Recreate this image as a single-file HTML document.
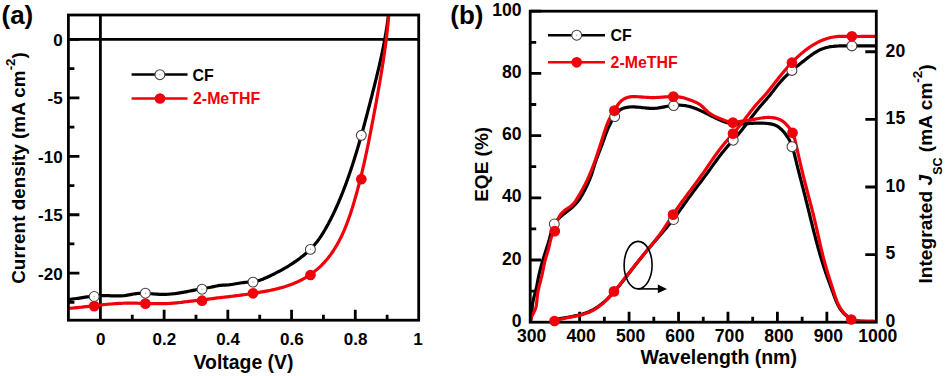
<!DOCTYPE html>
<html><head><meta charset="utf-8"><style>
html,body{margin:0;padding:0;background:#fff;}
body{width:946px;height:376px;overflow:hidden;font-family:"Liberation Sans",sans-serif;}
svg{display:block;}
</style></head><body>
<svg width="946" height="376" viewBox="0 0 946 376">
<rect width="946" height="376" fill="#fff"/>
<defs><clipPath id="ca"><rect x="68.4" y="15.0" width="350.3" height="305.2"/></clipPath><clipPath id="cb"><rect x="530.2" y="11.2" width="346.1" height="311.0"/></clipPath></defs>
<g font-family="Liberation Sans, sans-serif" font-weight="bold">
<g stroke="#000" stroke-width="2.80" fill="none">
<path d="M68.4,39.40H79.4 M68.4,97.85H79.4 M68.4,156.30H79.4 M68.4,214.75H79.4 M68.4,273.20H79.4 M68.4,68.62H74.4 M68.4,127.07H74.4 M68.4,185.53H74.4 M68.4,243.97H74.4 M68.4,302.42H74.4 M164.12,320.2V309.7 M227.84,320.2V309.7 M291.56,320.2V309.7 M355.28,320.2V309.7 M132.26,320.2V314.7 M195.98,320.2V314.7 M259.70,320.2V314.7 M323.42,320.2V314.7 M387.14,320.2V314.7"/>
<path d="M68.4,39.40H418.7 M100.40,15.0V320.2"/>
</g>
<path clip-path="url(#ca)" d="M69.00,299.48 L70.49,299.32 L71.98,299.14 L73.47,298.95 L74.96,298.75 L76.46,298.53 L77.95,298.31 L79.44,298.08 L80.93,297.85 L82.42,297.62 L83.91,297.40 L85.41,297.17 L86.90,296.95 L88.39,296.74 L89.89,296.54 L91.38,296.35 L92.88,296.18 L94.37,296.03 L95.87,295.89 L97.37,295.77 L98.86,295.68 L100.36,295.62 L101.86,295.58 L103.37,295.57 L104.87,295.58 L106.37,295.62 L107.88,295.66 L109.38,295.72 L110.88,295.78 L112.39,295.84 L113.89,295.89 L115.40,295.93 L116.90,295.95 L118.40,295.94 L119.90,295.92 L121.41,295.85 L122.90,295.75 L124.40,295.61 L125.90,295.41 L127.39,295.17 L128.89,294.90 L130.38,294.61 L131.87,294.32 L133.37,294.05 L134.86,293.80 L136.36,293.61 L137.86,293.47 L139.36,293.37 L140.86,293.32 L142.36,293.31 L143.86,293.34 L145.37,293.39 L146.87,293.46 L148.38,293.55 L149.88,293.66 L151.39,293.77 L152.89,293.89 L154.40,294.00 L155.90,294.11 L157.41,294.20 L158.91,294.28 L160.41,294.33 L161.91,294.36 L163.41,294.37 L164.90,294.34 L166.40,294.30 L167.89,294.23 L169.39,294.13 L170.88,294.02 L172.37,293.89 L173.86,293.73 L175.34,293.56 L176.83,293.36 L178.31,293.15 L179.80,292.92 L181.28,292.68 L182.76,292.42 L184.24,292.15 L185.71,291.86 L187.19,291.57 L188.67,291.27 L190.14,290.97 L191.62,290.67 L193.09,290.36 L194.57,290.06 L196.05,289.77 L197.52,289.48 L199.00,289.20 L200.48,288.93 L201.96,288.68 L203.45,288.44 L204.93,288.22 L206.41,287.99 L207.89,287.75 L209.37,287.50 L210.85,287.22 L212.32,286.91 L213.79,286.59 L215.26,286.26 L216.73,285.95 L218.20,285.68 L219.68,285.45 L221.16,285.29 L222.65,285.19 L224.14,285.12 L225.63,285.05 L227.12,284.97 L228.61,284.85 L230.10,284.69 L231.58,284.49 L233.06,284.27 L234.54,284.02 L236.01,283.77 L237.49,283.50 L238.97,283.24 L240.45,282.99 L241.93,282.76 L243.41,282.54 L244.90,282.37 L246.39,282.23 L247.88,282.13 L249.38,282.06 L250.88,281.98 L252.38,281.86 L253.88,281.66 L255.38,281.39 L256.87,281.04 L258.35,280.64 L259.81,280.18 L261.26,279.67 L262.69,279.14 L264.09,278.58 L265.47,278.00 L266.83,277.41 L268.17,276.80 L269.51,276.18 L270.83,275.54 L272.16,274.89 L273.48,274.23 L274.81,273.57 L276.13,272.89 L277.46,272.20 L278.79,271.50 L280.11,270.79 L281.43,270.07 L282.75,269.34 L284.07,268.59 L285.38,267.84 L286.69,267.07 L287.99,266.29 L289.28,265.50 L290.57,264.69 L291.85,263.87 L293.13,263.04 L294.39,262.20 L295.64,261.34 L296.88,260.47 L298.12,259.58 L299.34,258.68 L300.54,257.77 L301.74,256.84 L302.92,255.89 L304.08,254.93 L305.23,253.96 L306.37,252.97 L307.48,251.96 L308.58,250.94 L309.67,249.90 L310.73,248.85 L311.77,247.78 L312.80,246.69 L313.80,245.58 L314.78,244.46 L315.74,243.32 L316.68,242.16 L317.59,240.99 L318.48,239.79 L319.35,238.58 L320.20,237.36 L321.03,236.12 L321.84,234.87 L322.64,233.61 L323.43,232.33 L324.20,231.04 L324.96,229.75 L325.71,228.45 L326.45,227.14 L327.18,225.82 L327.91,224.50 L328.62,223.17 L329.33,221.83 L330.03,220.49 L330.72,219.15 L331.40,217.80 L332.08,216.45 L332.74,215.09 L333.40,213.74 L334.05,212.37 L334.69,211.01 L335.33,209.64 L335.95,208.27 L336.57,206.90 L337.18,205.52 L337.79,204.14 L338.39,202.76 L338.98,201.37 L339.56,199.99 L340.14,198.60 L340.71,197.21 L341.28,195.81 L341.84,194.42 L342.40,193.02 L342.95,191.62 L343.49,190.22 L344.03,188.82 L344.57,187.41 L345.10,186.00 L345.63,184.59 L346.15,183.18 L346.66,181.77 L347.18,180.36 L347.68,178.94 L348.19,177.52 L348.69,176.11 L349.18,174.69 L349.67,173.26 L350.16,171.84 L350.64,170.42 L351.12,168.99 L351.59,167.56 L352.06,166.13 L352.53,164.70 L353.00,163.27 L353.46,161.84 L353.91,160.40 L354.36,158.97 L354.81,157.53 L355.26,156.10 L355.70,154.66 L356.14,153.22 L356.58,151.78 L357.02,150.33 L357.45,148.89 L357.88,147.45 L358.30,146.00 L358.72,144.56 L359.14,143.11 L359.56,141.66 L359.98,140.22 L360.39,138.77 L360.80,137.32 L361.21,135.87 L361.62,134.41 L362.02,132.96 L362.42,131.51 L362.82,130.06 L363.22,128.60 L363.62,127.15 L364.01,125.69 L364.40,124.24 L364.80,122.78 L365.19,121.33 L365.57,119.87 L365.96,118.41 L366.35,116.96 L366.73,115.50 L367.11,114.04 L367.50,112.58 L367.88,111.12 L368.26,109.66 L368.64,108.20 L369.02,106.75 L369.39,105.29 L369.77,103.83 L370.15,102.37 L370.52,100.91 L370.90,99.45 L371.28,97.99 L371.65,96.53 L372.03,95.07 L372.40,93.61 L372.77,92.15 L373.14,90.69 L373.51,89.23 L373.88,87.77 L374.25,86.31 L374.62,84.85 L374.99,83.39 L375.35,81.93 L375.71,80.47 L376.07,79.01 L376.43,77.55 L376.79,76.08 L377.14,74.62 L377.50,73.16 L377.85,71.69 L378.19,70.23 L378.54,68.77 L378.88,67.30 L379.22,65.84 L379.56,64.37 L379.89,62.90 L380.22,61.44 L380.55,59.97 L380.87,58.50 L381.20,57.03 L381.51,55.56 L381.83,54.09 L382.14,52.62 L382.45,51.14 L382.75,49.67 L383.05,48.20 L383.34,46.72 L383.63,45.25 L383.92,43.77 L384.20,42.29 L384.48,40.81 L384.75,39.33 L385.02,37.85 L385.28,36.37 L385.54,34.89 L385.79,33.40 L386.04,31.92 L386.28,30.43 L386.52,28.94 L386.75,27.45 L386.98,25.96 L387.20,24.47 L387.41,22.98 L387.62,21.49 L387.83,19.99 L388.02,18.49 L388.21,17.00 L388.40,15.50 L388.57,14.00" fill="none" stroke="#000" stroke-width="3.20" stroke-linejoin="round"/>
<path clip-path="url(#ca)" d="M69.00,308.37 L70.49,308.25 L71.99,308.12 L73.48,307.98 L74.97,307.84 L76.47,307.69 L77.97,307.54 L79.46,307.38 L80.96,307.22 L82.45,307.05 L83.95,306.88 L85.45,306.71 L86.94,306.54 L88.44,306.37 L89.94,306.19 L91.44,306.02 L92.93,305.84 L94.43,305.67 L95.93,305.50 L97.43,305.33 L98.93,305.16 L100.43,305.00 L101.93,304.84 L103.43,304.68 L104.93,304.53 L106.43,304.38 L107.93,304.24 L109.43,304.11 L110.93,303.98 L112.43,303.86 L113.93,303.74 L115.43,303.64 L116.93,303.54 L118.44,303.45 L119.94,303.37 L121.44,303.30 L122.94,303.25 L124.45,303.20 L125.95,303.17 L127.45,303.15 L128.96,303.13 L130.46,303.13 L131.96,303.14 L133.47,303.16 L134.97,303.18 L136.48,303.21 L137.98,303.24 L139.49,303.28 L140.99,303.32 L142.50,303.36 L144.00,303.41 L145.50,303.45 L147.01,303.50 L148.51,303.54 L150.01,303.58 L151.52,303.62 L153.02,303.65 L154.52,303.68 L156.03,303.70 L157.53,303.71 L159.03,303.72 L160.53,303.71 L162.03,303.70 L163.53,303.67 L165.03,303.63 L166.53,303.58 L168.03,303.51 L169.53,303.43 L171.02,303.33 L172.52,303.22 L174.02,303.09 L175.51,302.95 L177.01,302.80 L178.50,302.64 L180.00,302.48 L181.49,302.30 L182.98,302.12 L184.48,301.94 L185.97,301.76 L187.46,301.57 L188.96,301.39 L190.45,301.21 L191.95,301.04 L193.44,300.87 L194.94,300.70 L196.43,300.54 L197.92,300.38 L199.42,300.22 L200.91,300.05 L202.40,299.88 L203.89,299.70 L205.38,299.51 L206.87,299.32 L208.36,299.13 L209.84,298.93 L211.33,298.73 L212.81,298.54 L214.30,298.34 L215.79,298.15 L217.27,297.96 L218.76,297.78 L220.25,297.60 L221.73,297.44 L223.22,297.27 L224.71,297.11 L226.20,296.95 L227.69,296.79 L229.18,296.62 L230.66,296.44 L232.15,296.27 L233.64,296.08 L235.13,295.90 L236.62,295.70 L238.11,295.51 L239.60,295.32 L241.09,295.12 L242.58,294.92 L244.07,294.71 L245.56,294.51 L247.05,294.29 L248.54,294.08 L250.03,293.86 L251.52,293.64 L253.01,293.41 L254.50,293.18 L255.99,292.94 L257.48,292.70 L258.96,292.45 L260.45,292.20 L261.94,291.94 L263.42,291.67 L264.90,291.40 L266.39,291.12 L267.87,290.83 L269.34,290.53 L270.82,290.23 L272.29,289.91 L273.76,289.58 L275.23,289.24 L276.69,288.89 L278.15,288.52 L279.60,288.14 L281.05,287.75 L282.50,287.34 L283.93,286.91 L285.37,286.47 L286.80,286.01 L288.22,285.53 L289.63,285.03 L291.04,284.51 L292.44,283.97 L293.84,283.42 L295.23,282.83 L296.60,282.23 L297.97,281.60 L299.34,280.95 L300.69,280.28 L302.03,279.57 L303.36,278.85 L304.69,278.10 L306.00,277.32 L307.29,276.53 L308.58,275.71 L309.84,274.86 L311.10,274.00 L312.33,273.11 L313.55,272.20 L314.75,271.28 L315.93,270.33 L317.09,269.36 L318.23,268.37 L319.35,267.36 L320.44,266.34 L321.52,265.29 L322.57,264.23 L323.60,263.15 L324.61,262.06 L325.61,260.94 L326.58,259.82 L327.53,258.67 L328.46,257.51 L329.37,256.34 L330.27,255.15 L331.14,253.94 L332.00,252.72 L332.84,251.49 L333.67,250.25 L334.47,248.99 L335.26,247.72 L336.04,246.44 L336.80,245.15 L337.54,243.85 L338.26,242.54 L338.98,241.21 L339.67,239.88 L340.36,238.54 L341.03,237.18 L341.68,235.82 L342.32,234.45 L342.95,233.08 L343.57,231.69 L344.17,230.30 L344.77,228.91 L345.35,227.50 L345.92,226.09 L346.47,224.68 L347.02,223.26 L347.56,221.83 L348.09,220.41 L348.60,218.97 L349.11,217.54 L349.61,216.10 L350.10,214.66 L350.59,213.21 L351.06,211.77 L351.53,210.32 L351.99,208.88 L352.44,207.43 L352.89,205.98 L353.33,204.53 L353.76,203.08 L354.19,201.64 L354.61,200.19 L355.03,198.75 L355.44,197.31 L355.85,195.87 L356.25,194.43 L356.65,193.00 L357.05,191.57 L357.44,190.14 L357.83,188.70 L358.21,187.27 L358.60,185.84 L358.97,184.41 L359.35,182.97 L359.72,181.53 L360.08,180.09 L360.45,178.65 L360.81,177.21 L361.17,175.75 L361.52,174.30 L361.87,172.84 L362.22,171.38 L362.57,169.92 L362.91,168.45 L363.25,166.98 L363.59,165.51 L363.92,164.04 L364.25,162.56 L364.58,161.09 L364.91,159.61 L365.23,158.13 L365.55,156.65 L365.87,155.17 L366.19,153.69 L366.50,152.21 L366.82,150.73 L367.13,149.25 L367.43,147.77 L367.74,146.29 L368.04,144.81 L368.34,143.33 L368.64,141.86 L368.94,140.38 L369.24,138.90 L369.53,137.42 L369.83,135.94 L370.12,134.47 L370.41,132.99 L370.69,131.51 L370.98,130.04 L371.27,128.56 L371.55,127.08 L371.83,125.60 L372.12,124.13 L372.40,122.65 L372.68,121.17 L372.96,119.69 L373.24,118.22 L373.51,116.74 L373.79,115.26 L374.07,113.78 L374.34,112.30 L374.62,110.82 L374.89,109.34 L375.16,107.86 L375.44,106.38 L375.71,104.90 L375.98,103.42 L376.25,101.94 L376.53,100.46 L376.80,98.98 L377.06,97.50 L377.33,96.02 L377.60,94.54 L377.87,93.05 L378.13,91.57 L378.39,90.09 L378.66,88.60 L378.92,87.12 L379.18,85.64 L379.44,84.15 L379.69,82.67 L379.95,81.18 L380.20,79.70 L380.45,78.21 L380.70,76.72 L380.95,75.24 L381.20,73.75 L381.44,72.26 L381.69,70.78 L381.93,69.29 L382.17,67.80 L382.40,66.31 L382.64,64.82 L382.87,63.33 L383.10,61.84 L383.32,60.36 L383.55,58.86 L383.77,57.37 L383.99,55.88 L384.21,54.39 L384.42,52.90 L384.63,51.41 L384.84,49.92 L385.05,48.43 L385.25,46.93 L385.45,45.44 L385.64,43.95 L385.84,42.45 L386.03,40.96 L386.21,39.46 L386.40,37.97 L386.58,36.47 L386.75,34.98 L386.93,33.48 L387.10,31.99 L387.26,30.49 L387.42,28.99 L387.58,27.50 L387.74,26.00 L387.89,24.50 L388.03,23.00 L388.18,21.50 L388.32,20.01 L388.45,18.51 L388.58,17.01 L388.71,15.51 L388.83,14.01" fill="none" stroke="#f0000a" stroke-width="3.20" stroke-linejoin="round"/>
<rect x="68.4" y="15.0" width="350.3" height="305.2" fill="none" stroke="#000" stroke-width="2.80"/>
<circle cx="94.2" cy="296.5" r="4.95" fill="#fff" stroke="#404040" stroke-width="1.05"/><circle cx="94.2" cy="296.5" r="0.6" fill="#999"/>
<circle cx="145.4" cy="293.2" r="4.95" fill="#fff" stroke="#404040" stroke-width="1.05"/><circle cx="145.4" cy="293.2" r="0.6" fill="#999"/>
<circle cx="202.0" cy="289.2" r="4.95" fill="#fff" stroke="#404040" stroke-width="1.05"/><circle cx="202.0" cy="289.2" r="0.6" fill="#999"/>
<circle cx="253.0" cy="282.1" r="4.95" fill="#fff" stroke="#404040" stroke-width="1.05"/><circle cx="253.0" cy="282.1" r="0.6" fill="#999"/>
<circle cx="310.4" cy="249.4" r="4.95" fill="#fff" stroke="#404040" stroke-width="1.05"/><circle cx="310.4" cy="249.4" r="0.6" fill="#999"/>
<circle cx="361.3" cy="135.3" r="4.95" fill="#fff" stroke="#404040" stroke-width="1.05"/><circle cx="361.3" cy="135.3" r="0.6" fill="#999"/>
<circle cx="94.2" cy="306.1" r="5.35" fill="#f0000a"/>
<circle cx="145.4" cy="303.6" r="5.35" fill="#f0000a"/>
<circle cx="202.0" cy="300.7" r="5.35" fill="#f0000a"/>
<circle cx="253.0" cy="293.3" r="5.35" fill="#f0000a"/>
<circle cx="310.5" cy="275.0" r="5.35" fill="#f0000a"/>
<circle cx="361.3" cy="179.2" r="5.35" fill="#f0000a"/>
<text x="1.5" y="23.9" font-size="26">(a)</text>
<g font-size="17" text-anchor="end">
<text x="62.6" y="45.9">0</text>
<text x="62.6" y="104.3">-5</text>
<text x="62.6" y="162.8">-10</text>
<text x="62.6" y="221.2">-15</text>
<text x="62.6" y="279.7">-20</text>
</g>
<g font-size="17" text-anchor="middle">
<text x="100.7" y="345.2">0</text>
<text x="164.4" y="345.2">0.2</text>
<text x="228.1" y="345.2">0.4</text>
<text x="291.9" y="345.2">0.6</text>
<text x="355.6" y="345.2">0.8</text>
<text x="418.1" y="345.2">1</text>
</g>
<text x="193.6" y="368.8" font-size="19.4">Voltage (V)</text>
<text transform="translate(25.1,283.8) rotate(-90)" font-size="18.9">Current density (mA cm<tspan font-size="13.3" dy="-9.8">-2</tspan><tspan dy="9.8">)</tspan></text>
<path d="M131.6,74.6H187.5" stroke="#000" stroke-width="2.5"/>
<circle cx="159.9" cy="74.7" r="4.95" fill="#fff" stroke="#404040" stroke-width="1.05"/><circle cx="159.9" cy="74.7" r="0.6" fill="#999"/>
<text x="192.6" y="80.6" font-size="15.9">CF</text>
<path d="M131.6,98.5H187.5" stroke="#f0000a" stroke-width="2.6"/>
<circle cx="160.0" cy="98.5" r="5.35" fill="#f0000a"/>
<text x="193" y="104" font-size="15.9" fill="#f0000a">2-MeTHF</text>
<g stroke="#000" stroke-width="2.80" fill="none">
<path d="M530.2,260.00H541.2 M530.2,197.80H541.2 M530.2,135.60H541.2 M530.2,73.40H541.2 M530.2,11.20H541.2 M530.2,291.10H536.2 M530.2,228.90H536.2 M530.2,166.70H536.2 M530.2,104.50H536.2 M530.2,42.30H536.2 M876.3,254.59H865.3 M876.3,186.98H865.3 M876.3,119.37H865.3 M876.3,51.77H865.3 M579.64,322.2V311.7 M629.09,322.2V311.7 M678.53,322.2V311.7 M727.97,322.2V311.7 M777.41,322.2V311.7 M826.86,322.2V311.7 M554.92,322.2V316.7 M604.36,322.2V316.7 M653.81,322.2V316.7 M703.25,322.2V316.7 M752.69,322.2V316.7 M802.14,322.2V316.7 M851.58,322.2V316.7"/>
</g>
<path clip-path="url(#cb)" d="M530.40,321.50 L530.74,320.03 L531.02,318.55 L531.25,317.06 L531.44,315.57 L531.60,314.07 L531.73,312.57 L531.86,311.07 L531.99,309.57 L532.12,308.07 L532.27,306.57 L532.44,305.07 L532.64,303.59 L532.88,302.11 L533.17,300.63 L533.49,299.17 L533.84,297.70 L534.22,296.25 L534.60,294.79 L534.99,293.33 L535.38,291.88 L535.75,290.42 L536.11,288.95 L536.45,287.48 L536.76,286.01 L537.06,284.54 L537.35,283.06 L537.63,281.58 L537.91,280.10 L538.20,278.62 L538.49,277.15 L538.80,275.67 L539.12,274.20 L539.46,272.74 L539.81,271.27 L540.17,269.81 L540.55,268.36 L540.94,266.90 L541.33,265.45 L541.74,264.00 L542.16,262.55 L542.58,261.11 L543.01,259.67 L543.45,258.23 L543.89,256.79 L544.34,255.35 L544.79,253.92 L545.24,252.48 L545.70,251.05 L546.15,249.62 L546.61,248.19 L547.06,246.76 L547.51,245.33 L547.96,243.90 L548.40,242.47 L548.83,241.02 L549.25,239.58 L549.66,238.12 L550.05,236.65 L550.43,235.17 L550.81,233.69 L551.19,232.21 L551.60,230.74 L552.04,229.29 L552.53,227.86 L553.08,226.47 L553.70,225.12 L554.41,223.82 L555.21,222.57 L556.10,221.37 L557.05,220.22 L558.07,219.12 L559.14,218.05 L560.24,217.02 L561.38,216.02 L562.54,215.05 L563.72,214.09 L564.92,213.15 L566.12,212.22 L567.32,211.29 L568.52,210.35 L569.70,209.41 L570.87,208.46 L572.02,207.48 L573.14,206.48 L574.23,205.45 L575.27,204.39 L576.27,203.28 L577.24,202.14 L578.16,200.97 L579.05,199.77 L579.90,198.53 L580.73,197.28 L581.52,195.99 L582.28,194.69 L583.03,193.37 L583.74,192.04 L584.44,190.69 L585.12,189.34 L585.79,187.98 L586.44,186.61 L587.08,185.24 L587.71,183.87 L588.33,182.50 L588.93,181.13 L589.52,179.75 L590.08,178.36 L590.63,176.97 L591.16,175.57 L591.66,174.15 L592.14,172.73 L592.60,171.29 L593.05,169.86 L593.49,168.41 L593.92,166.97 L594.36,165.53 L594.81,164.09 L595.27,162.65 L595.75,161.22 L596.24,159.80 L596.75,158.39 L597.27,156.98 L597.81,155.58 L598.35,154.18 L598.89,152.78 L599.44,151.38 L599.99,149.98 L600.53,148.58 L601.08,147.17 L601.61,145.76 L602.13,144.35 L602.65,142.93 L603.16,141.51 L603.66,140.09 L604.17,138.66 L604.67,137.24 L605.18,135.82 L605.70,134.40 L606.23,132.99 L606.78,131.59 L607.34,130.19 L607.91,128.81 L608.51,127.44 L609.14,126.08 L609.79,124.73 L610.47,123.40 L611.19,122.09 L611.93,120.79 L612.71,119.50 L613.51,118.21 L614.33,116.93 L615.17,115.63 L616.04,114.35 L616.95,113.11 L617.91,111.93 L618.96,110.86 L620.08,109.90 L621.32,109.10 L622.65,108.46 L624.06,107.97 L625.53,107.59 L627.02,107.31 L628.53,107.12 L630.03,106.99 L631.54,106.93 L633.05,106.92 L634.55,106.95 L636.06,107.03 L637.57,107.14 L639.08,107.27 L640.59,107.42 L642.10,107.58 L643.61,107.75 L645.11,107.91 L646.62,108.05 L648.12,108.18 L649.62,108.28 L651.12,108.34 L652.61,108.36 L654.11,108.33 L655.59,108.25 L657.08,108.10 L658.56,107.90 L660.04,107.66 L661.52,107.39 L663.00,107.11 L664.48,106.82 L665.96,106.54 L667.44,106.27 L668.92,106.03 L670.41,105.80 L671.90,105.61 L673.41,105.44 L674.92,105.32 L676.44,105.23 L677.96,105.18 L679.48,105.18 L680.99,105.23 L682.50,105.33 L684.00,105.49 L685.48,105.70 L686.94,105.96 L688.39,106.28 L689.83,106.64 L691.26,107.04 L692.68,107.49 L694.09,107.97 L695.49,108.49 L696.88,109.04 L698.26,109.62 L699.64,110.22 L701.01,110.84 L702.38,111.49 L703.74,112.15 L705.10,112.82 L706.46,113.50 L707.81,114.19 L709.17,114.87 L710.53,115.56 L711.88,116.25 L713.24,116.93 L714.60,117.60 L715.97,118.26 L717.34,118.90 L718.72,119.53 L720.10,120.13 L721.49,120.70 L722.89,121.24 L724.29,121.75 L725.71,122.22 L727.13,122.64 L728.57,123.02 L730.01,123.35 L731.47,123.62 L732.94,123.83 L734.42,123.98 L735.92,124.07 L737.42,124.12 L738.93,124.12 L740.45,124.08 L741.97,124.01 L743.50,123.93 L745.02,123.82 L746.54,123.71 L748.06,123.59 L749.57,123.48 L751.08,123.38 L752.59,123.29 L754.09,123.22 L755.58,123.15 L757.08,123.11 L758.57,123.09 L760.07,123.08 L761.56,123.11 L763.06,123.15 L764.57,123.23 L766.07,123.33 L767.59,123.47 L769.10,123.65 L770.60,123.88 L772.08,124.19 L773.52,124.59 L774.92,125.09 L776.26,125.71 L777.55,126.44 L778.79,127.27 L779.98,128.19 L781.12,129.18 L782.21,130.25 L783.25,131.37 L784.25,132.54 L785.20,133.74 L786.11,134.98 L786.97,136.23 L787.80,137.49 L788.58,138.77 L789.32,140.06 L790.00,141.38 L790.64,142.71 L791.23,144.08 L791.78,145.46 L792.28,146.86 L792.75,148.28 L793.19,149.72 L793.61,151.16 L794.00,152.62 L794.37,154.08 L794.74,155.55 L795.09,157.03 L795.45,158.50 L795.80,159.97 L796.16,161.44 L796.52,162.91 L796.88,164.38 L797.25,165.84 L797.62,167.31 L797.98,168.77 L798.35,170.23 L798.73,171.69 L799.10,173.15 L799.47,174.60 L799.85,176.06 L800.22,177.52 L800.60,178.97 L800.98,180.43 L801.35,181.88 L801.73,183.34 L802.11,184.79 L802.48,186.24 L802.86,187.70 L803.24,189.15 L803.61,190.61 L803.98,192.06 L804.36,193.52 L804.73,194.97 L805.10,196.43 L805.47,197.88 L805.83,199.34 L806.20,200.80 L806.56,202.26 L806.93,203.72 L807.29,205.18 L807.65,206.64 L808.01,208.10 L808.37,209.56 L808.73,211.02 L809.09,212.49 L809.45,213.95 L809.81,215.41 L810.16,216.87 L810.52,218.34 L810.89,219.80 L811.25,221.26 L811.61,222.72 L811.97,224.18 L812.34,225.65 L812.70,227.11 L813.07,228.57 L813.44,230.03 L813.81,231.49 L814.18,232.95 L814.55,234.41 L814.93,235.87 L815.31,237.32 L815.69,238.78 L816.07,240.24 L816.46,241.69 L816.85,243.15 L817.24,244.60 L817.64,246.05 L818.04,247.50 L818.44,248.95 L818.85,250.40 L819.26,251.85 L819.67,253.29 L820.09,254.74 L820.52,256.18 L820.94,257.62 L821.38,259.06 L821.81,260.50 L822.26,261.94 L822.70,263.37 L823.16,264.81 L823.61,266.24 L824.08,267.67 L824.55,269.09 L825.02,270.52 L825.50,271.94 L825.99,273.36 L826.48,274.78 L826.98,276.20 L827.49,277.62 L828.00,279.03 L828.51,280.44 L829.03,281.86 L829.54,283.27 L830.06,284.68 L830.58,286.09 L831.10,287.51 L831.62,288.92 L832.14,290.34 L832.66,291.76 L833.17,293.18 L833.68,294.60 L834.19,296.02 L834.72,297.44 L835.25,298.85 L835.81,300.26 L836.39,301.65 L837.00,303.02 L837.65,304.38 L838.33,305.72 L839.07,307.04 L839.85,308.33 L840.69,309.60 L841.59,310.83 L842.56,312.02 L843.58,313.17 L844.66,314.27 L845.79,315.31 L846.98,316.27 L848.21,317.16 L849.48,317.96 L850.80,318.67 L852.16,319.27 L853.55,319.78 L854.98,320.20 L856.43,320.54 L857.90,320.81 L859.40,321.02 L860.91,321.17 L862.43,321.27 L863.96,321.34 L865.49,321.38 L867.03,321.41 L868.55,321.42 L870.07,321.42 L871.58,321.44 L873.07,321.47 L874.55,321.52 L875.99,321.60" fill="none" stroke="#000" stroke-width="3.20" stroke-linejoin="round"/>
<path clip-path="url(#cb)" d="M554.60,320.50 L555.98,319.92 L557.38,319.41 L558.80,318.97 L560.24,318.60 L561.69,318.26 L563.15,317.97 L564.63,317.71 L566.11,317.46 L567.61,317.22 L569.10,316.98 L570.61,316.73 L572.11,316.47 L573.61,316.19 L575.12,315.88 L576.61,315.56 L578.11,315.22 L579.59,314.85 L581.06,314.45 L582.53,314.03 L583.97,313.57 L585.41,313.08 L586.82,312.56 L588.21,312.00 L589.58,311.41 L590.93,310.78 L592.26,310.10 L593.56,309.40 L594.84,308.66 L596.11,307.88 L597.35,307.07 L598.57,306.24 L599.78,305.37 L600.96,304.47 L602.13,303.55 L603.28,302.60 L604.42,301.62 L605.54,300.63 L606.64,299.61 L607.73,298.57 L608.81,297.51 L609.87,296.43 L610.92,295.33 L611.96,294.22 L612.98,293.09 L614.00,291.95 L615.01,290.80 L616.00,289.64 L616.99,288.47 L617.97,287.28 L618.94,286.10 L619.91,284.90 L620.87,283.70 L621.82,282.50 L622.77,281.30 L623.71,280.09 L624.65,278.89 L625.58,277.68 L626.52,276.48 L627.45,275.28 L628.38,274.09 L629.30,272.89 L630.23,271.70 L631.15,270.51 L632.07,269.32 L632.99,268.14 L633.92,266.96 L634.84,265.77 L635.76,264.60 L636.68,263.42 L637.61,262.24 L638.53,261.07 L639.46,259.90 L640.38,258.73 L641.32,257.56 L642.25,256.40 L643.18,255.24 L644.12,254.07 L645.07,252.92 L646.01,251.76 L646.96,250.60 L647.92,249.45 L648.88,248.29 L649.84,247.14 L650.81,245.99 L651.79,244.85 L652.77,243.70 L653.75,242.55 L654.74,241.41 L655.73,240.26 L656.72,239.12 L657.71,237.97 L658.70,236.83 L659.70,235.68 L660.69,234.53 L661.68,233.38 L662.67,232.23 L663.66,231.07 L664.64,229.92 L665.62,228.76 L666.60,227.60 L667.57,226.43 L668.53,225.26 L669.49,224.09 L670.44,222.91 L671.38,221.73 L672.32,220.55 L673.24,219.35 L674.16,218.16 L675.07,216.95 L675.97,215.75 L676.86,214.54 L677.75,213.32 L678.63,212.11 L679.50,210.89 L680.38,209.66 L681.24,208.44 L682.11,207.21 L682.98,205.99 L683.84,204.76 L684.71,203.54 L685.58,202.31 L686.45,201.09 L687.32,199.86 L688.20,198.64 L689.08,197.42 L689.97,196.21 L690.86,195.00 L691.76,193.78 L692.66,192.57 L693.56,191.37 L694.47,190.16 L695.37,188.95 L696.28,187.75 L697.19,186.54 L698.10,185.34 L699.01,184.13 L699.93,182.93 L700.84,181.72 L701.75,180.51 L702.66,179.30 L703.56,178.09 L704.47,176.88 L705.37,175.67 L706.27,174.45 L707.16,173.23 L708.05,172.01 L708.94,170.79 L709.82,169.56 L710.71,168.34 L711.59,167.11 L712.47,165.88 L713.35,164.65 L714.23,163.43 L715.12,162.21 L716.00,160.99 L716.89,159.77 L717.79,158.55 L718.69,157.35 L719.60,156.14 L720.51,154.95 L721.44,153.75 L722.37,152.57 L723.31,151.40 L724.26,150.23 L725.23,149.07 L726.20,147.92 L727.19,146.78 L728.18,145.65 L729.18,144.52 L730.19,143.40 L731.20,142.28 L732.21,141.15 L733.22,140.03 L734.23,138.91 L735.24,137.79 L736.24,136.66 L737.23,135.52 L738.21,134.38 L739.19,133.23 L740.15,132.07 L741.10,130.90 L742.05,129.72 L742.98,128.54 L743.91,127.35 L744.83,126.16 L745.75,124.96 L746.66,123.76 L747.57,122.55 L748.48,121.35 L749.39,120.14 L750.30,118.94 L751.21,117.73 L752.12,116.53 L753.03,115.33 L753.95,114.14 L754.88,112.95 L755.81,111.76 L756.75,110.58 L757.69,109.41 L758.65,108.25 L759.62,107.09 L760.59,105.94 L761.58,104.80 L762.57,103.67 L763.56,102.53 L764.56,101.40 L765.55,100.27 L766.54,99.13 L767.52,97.98 L768.50,96.83 L769.46,95.67 L770.41,94.50 L771.35,93.31 L772.28,92.12 L773.20,90.92 L774.12,89.71 L775.04,88.51 L775.96,87.32 L776.89,86.13 L777.83,84.95 L778.79,83.79 L779.76,82.64 L780.75,81.51 L781.76,80.40 L782.78,79.30 L783.81,78.21 L784.86,77.14 L785.93,76.09 L787.01,75.05 L788.10,74.01 L789.20,72.99 L790.32,71.98 L791.44,70.98 L792.58,69.99 L793.72,69.01 L794.88,68.04 L796.04,67.07 L797.21,66.11 L798.38,65.15 L799.57,64.20 L800.76,63.26 L801.95,62.31 L803.15,61.37 L804.35,60.44 L805.56,59.50 L806.77,58.57 L807.98,57.63 L809.19,56.71 L810.42,55.79 L811.65,54.89 L812.89,54.01 L814.14,53.16 L815.40,52.34 L816.69,51.56 L817.99,50.83 L819.31,50.14 L820.65,49.51 L822.02,48.94 L823.41,48.43 L824.82,47.98 L826.26,47.58 L827.71,47.24 L829.19,46.95 L830.67,46.70 L832.16,46.50 L833.67,46.33 L835.18,46.19 L836.70,46.08 L838.22,46.00 L839.74,45.94 L841.26,45.90 L842.78,45.87 L844.30,45.86 L845.82,45.87 L847.34,45.87 L848.86,45.89 L850.38,45.90 L851.89,45.92 L853.40,45.93 L854.91,45.93 L856.42,45.94 L857.92,45.94 L859.43,45.94 L860.93,45.93 L862.43,45.93 L863.93,45.92 L865.43,45.91 L866.93,45.91 L868.44,45.90 L869.95,45.90 L871.46,45.89 L872.97,45.89 L874.48,45.89 L876.00,45.89" fill="none" stroke="#000" stroke-width="3.20" stroke-linejoin="round"/>
<path clip-path="url(#cb)" d="M530.59,320.50 L530.86,319.00 L531.31,317.57 L531.88,316.18 L532.53,314.82 L533.23,313.47 L533.94,312.13 L534.60,310.79 L535.20,309.41 L535.68,308.01 L536.06,306.57 L536.35,305.10 L536.58,303.62 L536.75,302.11 L536.89,300.59 L537.01,299.07 L537.14,297.55 L537.30,296.03 L537.49,294.53 L537.72,293.04 L537.98,291.55 L538.28,290.07 L538.60,288.60 L538.94,287.14 L539.30,285.68 L539.68,284.22 L540.06,282.76 L540.45,281.31 L540.83,279.85 L541.21,278.39 L541.57,276.93 L541.92,275.46 L542.24,273.99 L542.55,272.52 L542.85,271.04 L543.15,269.56 L543.44,268.08 L543.73,266.60 L544.03,265.12 L544.35,263.65 L544.68,262.19 L545.03,260.73 L545.41,259.27 L545.81,257.83 L546.24,256.39 L546.67,254.95 L547.11,253.51 L547.55,252.07 L547.98,250.62 L548.40,249.17 L548.79,247.70 L549.16,246.23 L549.50,244.74 L549.82,243.25 L550.15,241.76 L550.50,240.28 L550.89,238.83 L551.33,237.40 L551.86,236.02 L552.48,234.68 L553.20,233.39 L553.96,232.13 L554.67,230.83 L555.24,229.47 L555.71,228.06 L556.10,226.61 L556.44,225.13 L556.77,223.64 L557.12,222.16 L557.53,220.70 L558.01,219.27 L558.61,217.88 L559.32,216.55 L560.14,215.28 L561.04,214.06 L562.04,212.91 L563.10,211.82 L564.24,210.79 L565.44,209.84 L566.69,208.96 L567.98,208.14 L569.26,207.34 L570.48,206.47 L571.63,205.53 L572.70,204.49 L573.71,203.39 L574.65,202.23 L575.55,201.02 L576.41,199.76 L577.23,198.47 L578.03,197.16 L578.81,195.84 L579.57,194.51 L580.33,193.19 L581.08,191.87 L581.83,190.54 L582.56,189.22 L583.29,187.90 L584.00,186.57 L584.70,185.24 L585.38,183.90 L586.05,182.56 L586.71,181.21 L587.35,179.85 L587.98,178.49 L588.60,177.12 L589.20,175.75 L589.79,174.37 L590.38,172.98 L590.95,171.60 L591.51,170.20 L592.06,168.80 L592.60,167.40 L593.14,166.00 L593.66,164.59 L594.18,163.18 L594.69,161.76 L595.19,160.34 L595.69,158.92 L596.18,157.49 L596.67,156.07 L597.15,154.64 L597.62,153.20 L598.10,151.77 L598.57,150.34 L599.03,148.90 L599.49,147.46 L599.95,146.02 L600.41,144.59 L600.87,143.15 L601.33,141.71 L601.78,140.27 L602.24,138.83 L602.70,137.39 L603.15,135.95 L603.61,134.51 L604.08,133.07 L604.54,131.63 L605.01,130.20 L605.48,128.77 L605.97,127.34 L606.47,125.92 L606.99,124.52 L607.54,123.12 L608.13,121.74 L608.75,120.39 L609.42,119.05 L610.12,117.73 L610.86,116.43 L611.62,115.13 L612.40,113.84 L613.18,112.55 L613.97,111.24 L614.74,109.93 L615.50,108.60 L616.28,107.28 L617.08,105.99 L617.92,104.73 L618.81,103.51 L619.77,102.37 L620.82,101.30 L621.97,100.33 L623.21,99.46 L624.52,98.69 L625.89,98.04 L627.32,97.51 L628.78,97.11 L630.27,96.84 L631.78,96.68 L633.29,96.62 L634.82,96.62 L636.34,96.66 L637.86,96.74 L639.37,96.83 L640.87,96.93 L642.37,97.03 L643.86,97.14 L645.36,97.25 L646.85,97.34 L648.34,97.43 L649.83,97.49 L651.33,97.54 L652.82,97.55 L654.33,97.54 L655.83,97.50 L657.35,97.43 L658.86,97.35 L660.37,97.25 L661.89,97.15 L663.41,97.04 L664.93,96.93 L666.44,96.84 L667.96,96.75 L669.47,96.68 L670.98,96.63 L672.49,96.61 L673.99,96.62 L675.49,96.66 L676.98,96.75 L678.47,96.89 L679.94,97.07 L681.41,97.32 L682.87,97.62 L684.33,97.99 L685.77,98.42 L687.21,98.90 L688.64,99.42 L690.06,99.96 L691.48,100.52 L692.90,101.07 L694.31,101.64 L695.69,102.25 L697.05,102.89 L698.36,103.61 L699.61,104.40 L700.81,105.29 L701.96,106.25 L703.07,107.27 L704.16,108.32 L705.24,109.38 L706.34,110.43 L707.45,111.45 L708.60,112.42 L709.79,113.32 L711.03,114.16 L712.30,114.94 L713.61,115.68 L714.95,116.37 L716.31,117.02 L717.70,117.64 L719.10,118.23 L720.51,118.81 L721.94,119.36 L723.37,119.92 L724.80,120.47 L726.23,121.01 L727.66,121.50 L729.09,121.93 L730.53,122.25 L731.99,122.43 L733.45,122.45 L734.93,122.30 L736.42,122.05 L737.91,121.76 L739.41,121.49 L740.91,121.26 L742.41,121.06 L743.92,120.88 L745.42,120.70 L746.91,120.51 L748.40,120.32 L749.88,120.10 L751.36,119.85 L752.83,119.59 L754.29,119.31 L755.76,119.03 L757.23,118.75 L758.69,118.48 L760.17,118.22 L761.65,117.99 L763.14,117.79 L764.64,117.63 L766.15,117.51 L767.68,117.45 L769.22,117.45 L770.76,117.50 L772.29,117.63 L773.81,117.83 L775.31,118.11 L776.78,118.48 L778.21,118.93 L779.60,119.48 L780.93,120.13 L782.20,120.88 L783.41,121.74 L784.55,122.70 L785.64,123.74 L786.69,124.84 L787.71,125.98 L788.70,127.16 L789.67,128.35 L790.58,129.58 L791.44,130.84 L792.21,132.13 L792.89,133.47 L793.47,134.84 L793.97,136.25 L794.40,137.69 L794.78,139.14 L795.14,140.61 L795.47,142.08 L795.81,143.55 L796.14,145.02 L796.47,146.50 L796.81,147.97 L797.14,149.44 L797.47,150.91 L797.80,152.38 L798.14,153.85 L798.47,155.32 L798.81,156.79 L799.14,158.26 L799.48,159.73 L799.82,161.20 L800.16,162.67 L800.50,164.13 L800.84,165.60 L801.18,167.06 L801.53,168.53 L801.88,169.99 L802.23,171.46 L802.58,172.92 L802.94,174.38 L803.30,175.84 L803.66,177.31 L804.03,178.77 L804.40,180.23 L804.77,181.68 L805.14,183.14 L805.52,184.60 L805.90,186.06 L806.28,187.52 L806.66,188.97 L807.04,190.43 L807.42,191.89 L807.81,193.34 L808.19,194.80 L808.58,196.26 L808.96,197.71 L809.35,199.17 L809.73,200.63 L810.12,202.08 L810.50,203.54 L810.88,205.00 L811.26,206.46 L811.64,207.92 L812.01,209.38 L812.39,210.84 L812.76,212.30 L813.13,213.76 L813.49,215.22 L813.85,216.68 L814.21,218.15 L814.56,219.61 L814.91,221.08 L815.26,222.55 L815.60,224.01 L815.94,225.48 L816.27,226.95 L816.61,228.42 L816.94,229.89 L817.27,231.37 L817.60,232.84 L817.93,234.31 L818.25,235.78 L818.58,237.25 L818.91,238.72 L819.24,240.19 L819.57,241.66 L819.91,243.13 L820.24,244.60 L820.58,246.07 L820.92,247.53 L821.26,249.00 L821.61,250.46 L821.97,251.93 L822.32,253.39 L822.69,254.85 L823.06,256.31 L823.43,257.77 L823.81,259.22 L824.20,260.67 L824.59,262.12 L824.99,263.57 L825.40,265.02 L825.81,266.47 L826.23,267.91 L826.66,269.35 L827.08,270.80 L827.52,272.24 L827.95,273.68 L828.40,275.12 L828.84,276.55 L829.29,277.99 L829.74,279.43 L830.19,280.87 L830.65,282.30 L831.11,283.74 L831.57,285.18 L832.03,286.62 L832.49,288.05 L832.95,289.49 L833.42,290.93 L833.88,292.37 L834.34,293.81 L834.81,295.25 L835.28,296.69 L835.77,298.12 L836.29,299.54 L836.82,300.94 L837.39,302.34 L837.99,303.72 L838.64,305.07 L839.33,306.41 L840.08,307.72 L840.89,309.00 L841.76,310.26 L842.69,311.47 L843.69,312.65 L844.76,313.77 L845.87,314.83 L847.04,315.83 L848.26,316.75 L849.53,317.58 L850.84,318.32 L852.19,318.96 L853.57,319.50 L854.99,319.95 L856.43,320.32 L857.90,320.61 L859.39,320.84 L860.90,321.01 L862.41,321.14 L863.94,321.22 L865.47,321.28 L867.00,321.31 L868.53,321.33 L870.06,321.34 L871.57,321.35 L873.06,321.38 L874.54,321.43 L876.00,321.50" fill="none" stroke="#f0000a" stroke-width="3.20" stroke-linejoin="round"/>
<path clip-path="url(#cb)" d="M554.54,320.82 L555.90,320.39 L557.29,319.99 L558.69,319.62 L560.12,319.27 L561.57,318.94 L563.03,318.62 L564.51,318.32 L566.00,318.02 L567.50,317.73 L569.00,317.45 L570.51,317.16 L572.03,316.88 L573.54,316.58 L575.05,316.27 L576.56,315.96 L578.06,315.62 L579.55,315.27 L581.04,314.90 L582.51,314.49 L583.96,314.07 L585.40,313.60 L586.81,313.11 L588.21,312.57 L589.58,312.00 L590.93,311.38 L592.25,310.72 L593.55,310.02 L594.82,309.28 L596.07,308.51 L597.30,307.70 L598.51,306.85 L599.70,305.98 L600.88,305.07 L602.03,304.13 L603.16,303.17 L604.28,302.17 L605.38,301.16 L606.47,300.12 L607.54,299.05 L608.59,297.97 L609.64,296.87 L610.67,295.75 L611.69,294.61 L612.69,293.46 L613.69,292.30 L614.68,291.12 L615.65,289.93 L616.63,288.74 L617.59,287.54 L618.54,286.33 L619.49,285.11 L620.44,283.90 L621.38,282.68 L622.32,281.46 L623.25,280.25 L624.18,279.04 L625.11,277.83 L626.04,276.63 L626.97,275.43 L627.89,274.24 L628.82,273.05 L629.75,271.87 L630.68,270.69 L631.60,269.52 L632.53,268.35 L633.46,267.19 L634.39,266.02 L635.32,264.86 L636.24,263.70 L637.18,262.55 L638.11,261.39 L639.04,260.24 L639.97,259.08 L640.91,257.93 L641.85,256.77 L642.79,255.62 L643.73,254.47 L644.67,253.31 L645.61,252.15 L646.56,250.99 L647.51,249.83 L648.46,248.67 L649.42,247.50 L650.37,246.33 L651.33,245.16 L652.30,243.98 L653.26,242.80 L654.22,241.61 L655.17,240.42 L656.12,239.22 L657.06,238.02 L658.00,236.81 L658.92,235.60 L659.83,234.37 L660.73,233.15 L661.61,231.91 L662.48,230.67 L663.34,229.43 L664.18,228.18 L665.02,226.92 L665.85,225.67 L666.67,224.41 L667.49,223.14 L668.30,221.88 L669.11,220.62 L669.93,219.36 L670.74,218.10 L671.56,216.84 L672.38,215.58 L673.21,214.33 L674.04,213.08 L674.88,211.84 L675.73,210.60 L676.58,209.36 L677.44,208.13 L678.31,206.90 L679.18,205.67 L680.05,204.45 L680.93,203.23 L681.82,202.01 L682.71,200.79 L683.60,199.57 L684.49,198.36 L685.39,197.15 L686.29,195.94 L687.19,194.72 L688.09,193.51 L688.99,192.30 L689.89,191.10 L690.80,189.89 L691.70,188.68 L692.61,187.47 L693.51,186.26 L694.41,185.04 L695.31,183.83 L696.21,182.62 L697.11,181.40 L698.00,180.18 L698.89,178.96 L699.78,177.74 L700.66,176.52 L701.54,175.29 L702.42,174.06 L703.29,172.82 L704.16,171.59 L705.02,170.35 L705.88,169.11 L706.73,167.86 L707.58,166.62 L708.44,165.37 L709.29,164.13 L710.14,162.88 L710.99,161.64 L711.85,160.39 L712.70,159.15 L713.56,157.92 L714.43,156.68 L715.30,155.45 L716.18,154.23 L717.06,153.01 L717.95,151.80 L718.85,150.59 L719.76,149.39 L720.68,148.20 L721.61,147.01 L722.55,145.84 L723.50,144.67 L724.46,143.51 L725.44,142.36 L726.42,141.22 L727.40,140.07 L728.39,138.94 L729.39,137.80 L730.38,136.67 L731.38,135.54 L732.38,134.40 L733.38,133.27 L734.37,132.13 L735.35,130.99 L736.34,129.84 L737.31,128.69 L738.27,127.53 L739.23,126.36 L740.17,125.19 L741.11,124.00 L742.03,122.81 L742.96,121.62 L743.87,120.42 L744.78,119.22 L745.69,118.02 L746.60,116.82 L747.51,115.61 L748.42,114.41 L749.34,113.21 L750.25,112.02 L751.18,110.83 L752.11,109.64 L753.05,108.47 L754.00,107.30 L754.96,106.14 L755.93,104.99 L756.92,103.85 L757.92,102.72 L758.94,101.61 L759.97,100.50 L761.00,99.40 L762.03,98.30 L763.06,97.19 L764.08,96.08 L765.08,94.96 L766.07,93.83 L767.03,92.69 L767.99,91.54 L768.93,90.38 L769.86,89.21 L770.79,88.03 L771.71,86.85 L772.63,85.66 L773.55,84.47 L774.47,83.29 L775.40,82.10 L776.32,80.91 L777.26,79.72 L778.19,78.54 L779.13,77.35 L780.08,76.17 L781.03,74.99 L781.99,73.82 L782.96,72.65 L783.93,71.49 L784.91,70.33 L785.89,69.18 L786.88,68.04 L787.89,66.90 L788.90,65.77 L789.92,64.65 L790.95,63.54 L791.99,62.44 L793.04,61.36 L794.10,60.28 L795.17,59.21 L796.25,58.16 L797.35,57.12 L798.46,56.10 L799.58,55.09 L800.71,54.09 L801.86,53.11 L803.02,52.15 L804.20,51.21 L805.39,50.28 L806.59,49.37 L807.81,48.48 L809.05,47.61 L810.30,46.76 L811.57,45.93 L812.85,45.13 L814.15,44.35 L815.46,43.60 L816.79,42.88 L818.13,42.19 L819.48,41.53 L820.85,40.91 L822.23,40.31 L823.62,39.76 L825.02,39.24 L826.44,38.76 L827.87,38.32 L829.31,37.92 L830.76,37.56 L832.23,37.24 L833.70,36.98 L835.19,36.75 L836.69,36.58 L838.19,36.45 L839.71,36.37 L841.23,36.32 L842.76,36.31 L844.29,36.31 L845.82,36.34 L847.35,36.37 L848.88,36.41 L850.41,36.45 L851.93,36.48 L853.45,36.50 L854.95,36.51 L856.46,36.50 L857.96,36.49 L859.45,36.48 L860.95,36.46 L862.44,36.43 L863.93,36.41 L865.43,36.38 L866.93,36.36 L868.43,36.35 L869.93,36.34 L871.44,36.34 L872.95,36.35 L874.48,36.37 L876.01,36.41" fill="none" stroke="#f0000a" stroke-width="3.20" stroke-linejoin="round"/>
<rect x="530.2" y="11.2" width="346.1" height="311.0" fill="none" stroke="#000" stroke-width="2.80"/>
<ellipse cx="638.1" cy="265.1" rx="14" ry="23.7" fill="none" stroke="#000" stroke-width="1.6"/>
<path d="M637.5,288.9H659" stroke="#000" stroke-width="1.6"/>
<path d="M657.8,284.6L667,288.9L657.8,293.2Z" fill="#000"/>
<circle cx="554.3" cy="224.0" r="4.95" fill="#fff" stroke="#404040" stroke-width="1.05"/><circle cx="554.3" cy="224.0" r="0.6" fill="#999"/>
<circle cx="614.7" cy="116.6" r="4.95" fill="#fff" stroke="#404040" stroke-width="1.05"/><circle cx="614.7" cy="116.6" r="0.6" fill="#999"/>
<circle cx="673.6" cy="105.6" r="4.95" fill="#fff" stroke="#404040" stroke-width="1.05"/><circle cx="673.6" cy="105.6" r="0.6" fill="#999"/>
<circle cx="792.0" cy="146.7" r="4.95" fill="#fff" stroke="#404040" stroke-width="1.05"/><circle cx="792.0" cy="146.7" r="0.6" fill="#999"/>
<circle cx="673.5" cy="219.5" r="4.95" fill="#fff" stroke="#404040" stroke-width="1.05"/><circle cx="673.5" cy="219.5" r="0.6" fill="#999"/>
<circle cx="733.2" cy="140.2" r="4.95" fill="#fff" stroke="#404040" stroke-width="1.05"/><circle cx="733.2" cy="140.2" r="0.6" fill="#999"/>
<circle cx="791.9" cy="70.4" r="4.95" fill="#fff" stroke="#404040" stroke-width="1.05"/><circle cx="791.9" cy="70.4" r="0.6" fill="#999"/>
<circle cx="851.9" cy="45.9" r="4.95" fill="#fff" stroke="#404040" stroke-width="1.05"/><circle cx="851.9" cy="45.9" r="0.6" fill="#999"/>
<circle cx="554.8" cy="231.1" r="5.35" fill="#f0000a"/>
<circle cx="614.4" cy="110.6" r="5.35" fill="#f0000a"/>
<circle cx="673.3" cy="96.6" r="5.35" fill="#f0000a"/>
<circle cx="732.9" cy="122.6" r="5.35" fill="#f0000a"/>
<circle cx="792.5" cy="132.8" r="5.35" fill="#f0000a"/>
<circle cx="851.3" cy="319.5" r="5.35" fill="#f0000a"/>
<circle cx="554.5" cy="321.0" r="5.35" fill="#f0000a"/>
<circle cx="614.0" cy="291.4" r="5.35" fill="#f0000a"/>
<circle cx="673.1" cy="214.6" r="5.35" fill="#f0000a"/>
<circle cx="733.0" cy="133.6" r="5.35" fill="#f0000a"/>
<circle cx="791.9" cy="62.7" r="5.35" fill="#f0000a"/>
<circle cx="851.9" cy="36.3" r="5.35" fill="#f0000a"/>
<text x="450.3" y="23.9" font-size="26">(b)</text>
<g font-size="17.6" text-anchor="end">
<text x="521.6" y="326.7">0</text>
<text x="521.6" y="264.5">20</text>
<text x="521.6" y="202.3">40</text>
<text x="521.6" y="140.1">60</text>
<text x="521.6" y="77.9">80</text>
<text x="521.6" y="15.7">100</text>
</g>
<g font-size="17.6" text-anchor="start">
<text x="885.6" y="327.0">0</text>
<text x="885.6" y="259.4">5</text>
<text x="885.6" y="191.8">10</text>
<text x="885.6" y="124.2">15</text>
<text x="885.6" y="56.6">20</text>
</g>
<g font-size="17.6" text-anchor="middle">
<text x="531.7" y="342.2">300</text>
<text x="581.1" y="342.2">400</text>
<text x="630.6" y="342.2">500</text>
<text x="680.0" y="342.2">600</text>
<text x="729.5" y="342.2">700</text>
<text x="778.9" y="342.2">800</text>
<text x="828.4" y="342.2">900</text>
<text x="877.8" y="342.2">1000</text>
</g>
<text x="640.6" y="364" font-size="19.5">Wavelength (nm)</text>
<text transform="translate(488.4,201.8) rotate(-90)" font-size="19">EQE (%)</text>
<text transform="translate(932.3,283.6) rotate(-90)" font-size="19.2">Integrated <tspan font-style="italic">J</tspan><tspan font-size="12.5" dy="10">SC</tspan><tspan dy="-10"> (mA cm</tspan><tspan font-size="13.5" dx="-0.4" dy="-10.3">-2</tspan><tspan dy="10.3">)</tspan></text>
<path d="M548,35.2H605" stroke="#000" stroke-width="2.5"/>
<circle cx="576.7" cy="35.2" r="4.95" fill="#fff" stroke="#404040" stroke-width="1.05"/><circle cx="576.7" cy="35.2" r="0.6" fill="#999"/>
<text x="610.6" y="40.8" font-size="15.9">CF</text>
<path d="M548,62.3H605" stroke="#f0000a" stroke-width="2.6"/>
<circle cx="576.7" cy="62.3" r="5.35" fill="#f0000a"/>
<text x="610.6" y="68" font-size="15.9" fill="#f0000a">2-MeTHF</text>
</g></svg>
</body></html>
